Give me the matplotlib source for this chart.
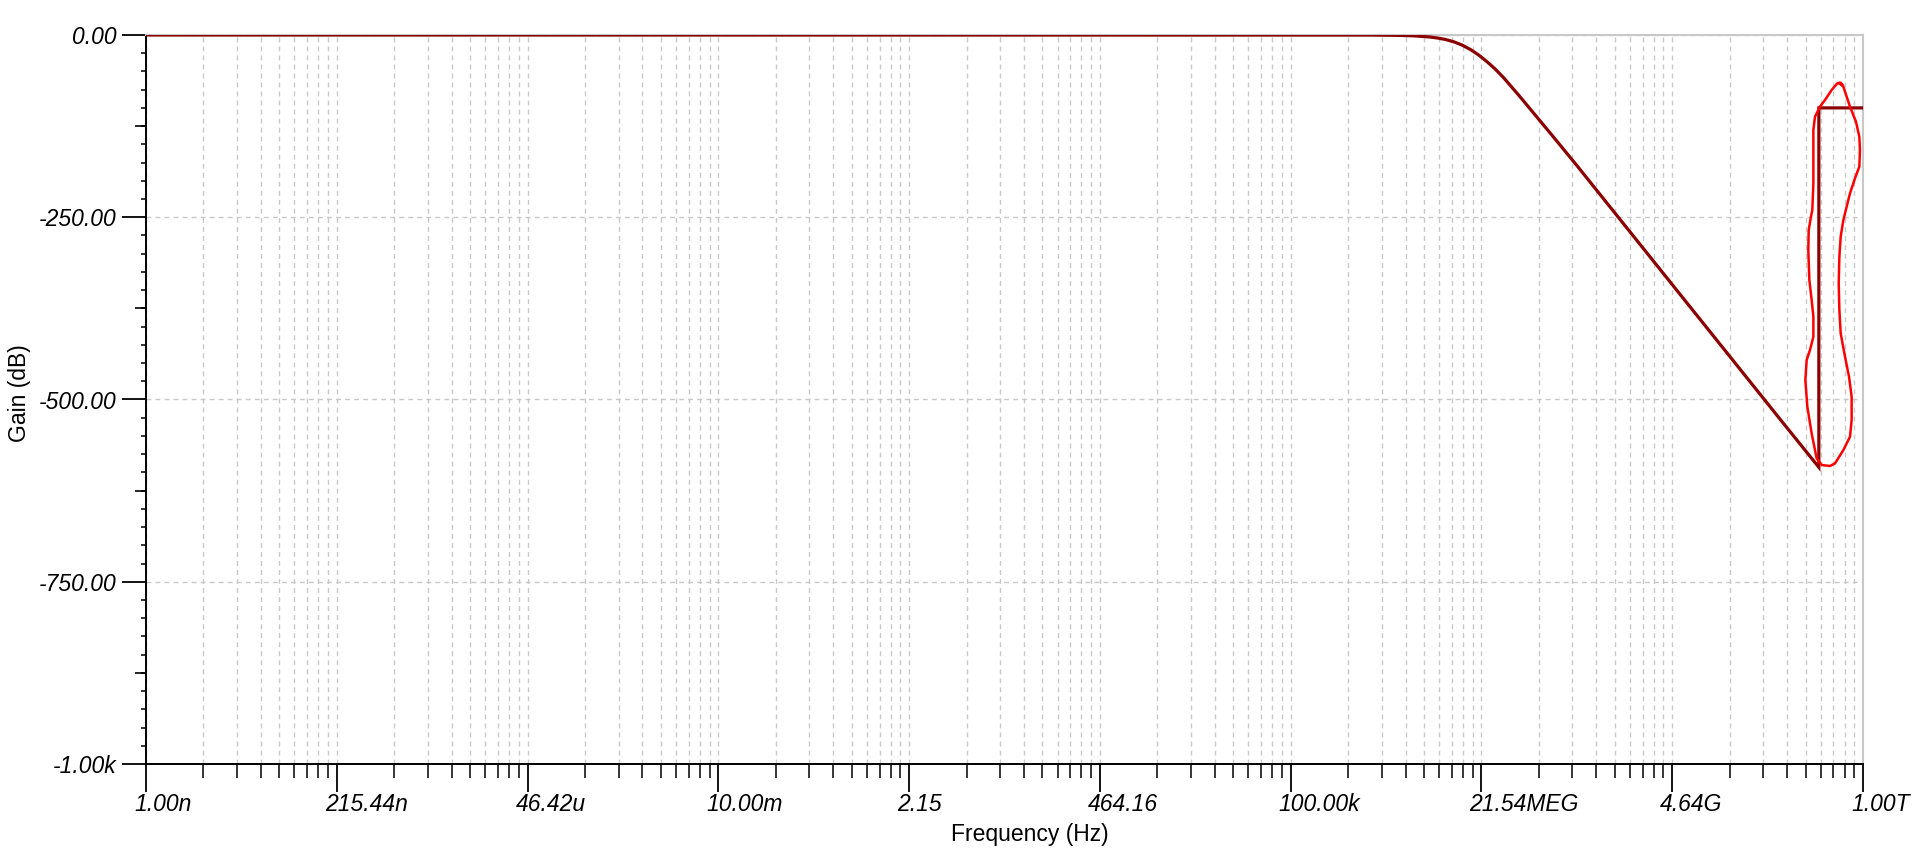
import matplotlib
matplotlib.use("Agg")
import matplotlib.pyplot as plt
import matplotlib.transforms as mtransforms
from matplotlib.ticker import NullFormatter
import numpy as np

# gain curve (frequency as log10 of Hz)
freq_exp = [-9.0, 6.0, 6.3, 6.5, 6.7, 6.8, 6.9, 7.0, 7.1, 7.2, 7.3, 7.4,
            7.5, 7.6, 7.8, 8.0, 8.2, 8.5, 9.0, 10.0, 11.0, 11.46, 11.46, 12.0]
gain_db = [0.0, -0.1, -0.45, -1.1, -2.7, -4.2, -6.3, -9.5, -14.0, -20.0,
           -27.5, -36.5, -46.5, -58.0, -84.0, -111.0, -138.0, -179.0,
           -249.0, -389.0, -529.0, -593.0, -100.0, -100.0]

# hand drawn red loop around the jump
loop_exp = [11.711, 11.760, 11.800, 11.841, 11.914, 11.955, 11.963, 11.955,
            11.902, 11.841, 11.800, 11.760, 11.727, 11.711, 11.703, 11.711,
            11.727, 11.780, 11.829, 11.861, 11.861, 11.841, 11.760, 11.658,
            11.596, 11.495, 11.433, 11.372, 11.319, 11.295, 11.311, 11.352,
            11.393, 11.393, 11.372, 11.344, 11.331, 11.336, 11.360, 11.380,
            11.393, 11.393, 11.393, 11.413, 11.474, 11.535, 11.617, 11.686,
            11.727, 11.751]
loop_db = [-66.3, -70.9, -84.6, -98.3, -118.9, -139.5, -157.8, -180.6,
           -196.6, -217.2, -235.5, -253.8, -276.6, -304.1, -340.7, -377.2,
           -409.2, -441.3, -468.7, -496.1, -528.1, -551.0, -569.3, -587.6,
           -591.2, -589.9, -580.7, -546.4, -509.8, -473.3, -445.8, -432.1,
           -413.8, -386.4, -363.5, -336.1, -294.9, -267.5, -251.5, -240.1,
           -203.5, -157.8, -130.3, -112.0, -98.3, -89.2, -75.4, -66.3,
           -65.4, -68.6]

x_tick_labels = ['1.00n', '215.44n', '46.42u', '10.00m', '2.15', '464.16',
                 '100.00k', '21.54MEG', '4.64G', '1.00T']
y_ticks = [0, -250, -500, -750, -1000]
y_tick_labels = ['0.00', '-250.00', '-500.00', '-750.00', '-1.00k']

plt.rcParams['font.family'] = ['Liberation Sans', 'DejaVu Sans']
FS = 16.5
GRID = '#c8c8c8'

fig = plt.figure(figsize=(19.15, 8.55), dpi=100)
ax = fig.add_axes([146 / 1915, 1 - 764 / 855, 1717 / 1915, 729 / 855])

# major x ticks every 7/3 decade, minor ones spaced like a log decade inside
n_major = len(x_tick_labels)
major_x = [10.0 ** (-9 + i * 7 / 3) for i in range(n_major)]
minor_x = [10.0 ** (-9 + (i + np.log10(k)) * 7 / 3)
           for i in range(n_major - 1) for k in range(2, 10)]

ax.set_xscale('log')
ax.set_xlim(1e-9, 1e12)
ax.set_ylim(-1000, 0)

ax.set_xticks(major_x)
ax.set_xticks(minor_x, minor=True)
ax.xaxis.set_minor_formatter(NullFormatter())
ax.set_xticklabels(x_tick_labels, fontsize=FS, style='italic', ha='left')
ax.set_yticks(y_ticks)
ax.set_yticks(np.arange(-1000, 1, 25), minor=True)
ax.yaxis.set_minor_formatter(NullFormatter())
ax.set_yticklabels(y_tick_labels, fontsize=FS, style='italic')

ax.tick_params(axis='x', which='major', length=20, width=1.3, pad=1)
ax.tick_params(axis='x', which='minor', length=10, width=1.1)
ax.tick_params(axis='y', which='major', length=17.5, width=1.3, pad=3.5)
ax.tick_params(axis='y', which='minor', length=3.3, width=1.1)

# x labels start a little left of their tick
shift = mtransforms.ScaledTranslation(-12 / 100, 0, fig.dpi_scale_trans)
for lbl in ax.xaxis.get_majorticklabels():
    lbl.set_transform(lbl.get_transform() + shift)

# medium y ticks halfway between the labelled ones
mid = ax.secondary_yaxis('left')
mid.set_yticks(np.arange(-875, 0, 250))
mid.yaxis.set_minor_formatter(NullFormatter())
mid.tick_params(which='major', length=8, width=1.2, labelleft=False)
mid.tick_params(which='minor', length=0)
mid.spines['left'].set_visible(False)

ax.grid(True, axis='x', which='both', color=GRID, linestyle=(0, (3.5, 3)),
        linewidth=1.0)
ax.grid(True, axis='y', which='major', color=GRID, linestyle=(0, (3.5, 3)),
        linewidth=1.0)
ax.set_axisbelow(True)

for side in ['left', 'bottom']:
    ax.spines[side].set_linewidth(1.4)
    ax.spines[side].set_color('black')
for side in ['top', 'right']:
    ax.spines[side].set_linewidth(1.5)
    ax.spines[side].set_color(GRID)

ax.plot(10.0 ** np.array(freq_exp), gain_db, color='#8b0000', linewidth=2.3,
        solid_joinstyle='miter', zorder=3)
ax.plot(10.0 ** np.array(loop_exp), loop_db, color='#ff0000', linewidth=1.8,
        zorder=4, clip_on=False)

fig.text(1030 / 1915, 1 - 834 / 855, 'Frequency (Hz)', fontsize=FS,
         ha='center', va='center')
fig.text(20 / 1915, 1 - 393 / 855, 'Gain (dB)', fontsize=FS, rotation=90,
         ha='center', va='center')

fig.savefig('out.png', dpi=100)
